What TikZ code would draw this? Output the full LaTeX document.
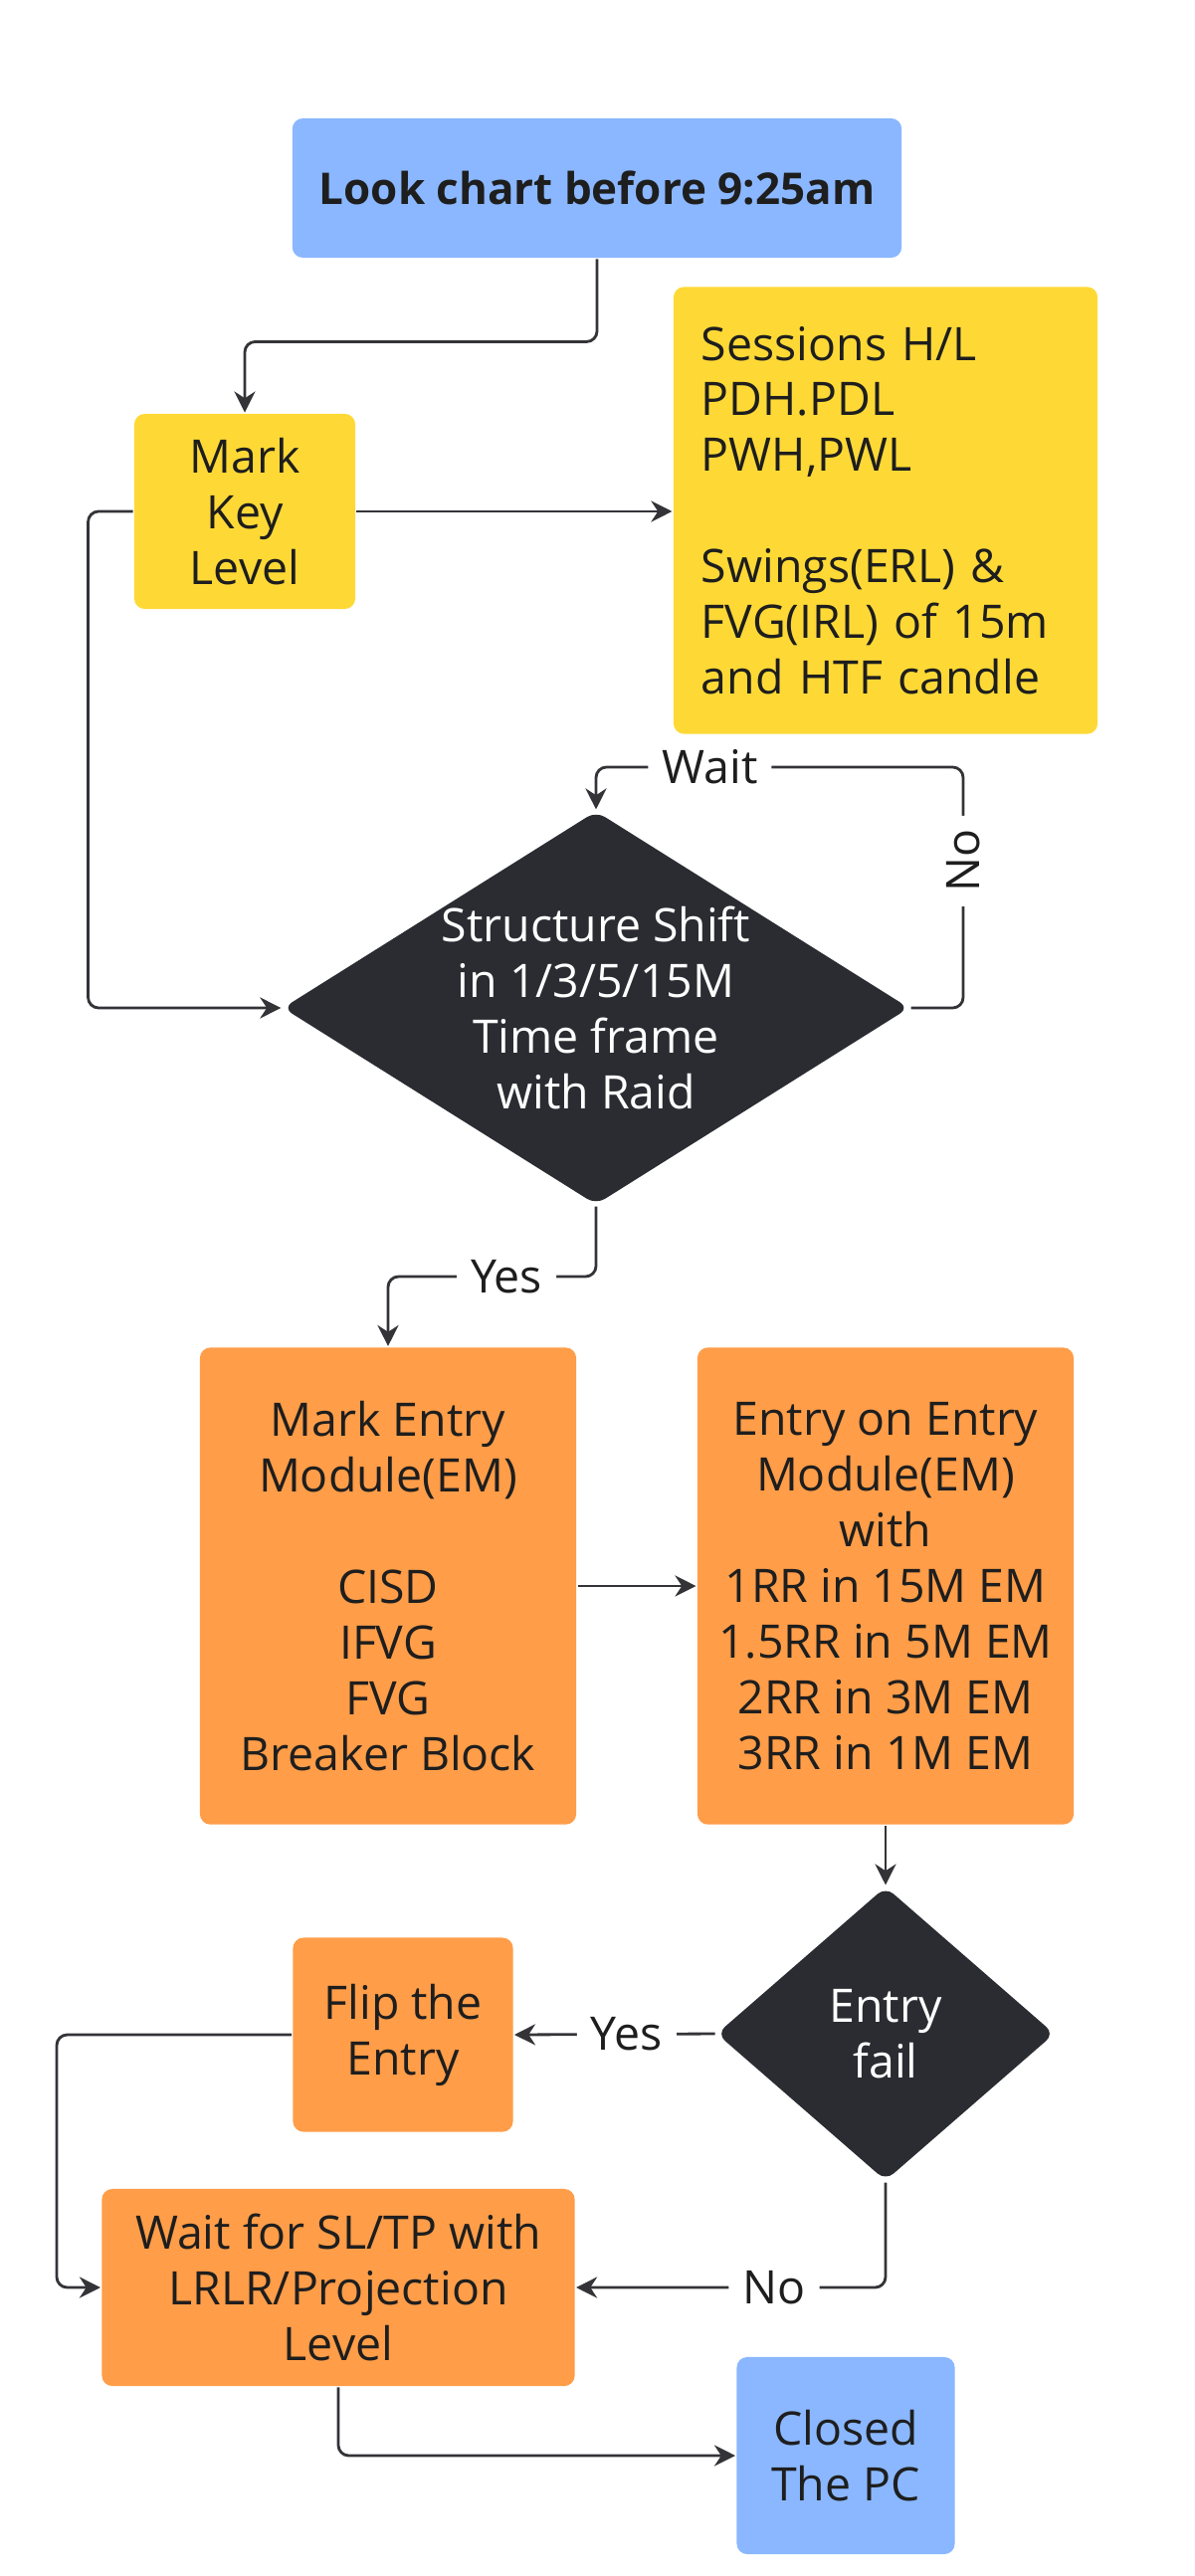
\documentclass[tikz,border=0pt]{standalone}
\usepackage{fontspec}
\setmainfont{Open Sans}
\usepackage{xcolor}
\usetikzlibrary{arrows.meta,shapes.geometric,calc}
\definecolor{flow@blue}{RGB}{138,183,255}
\definecolor{flow@yellow}{RGB}{254,217,54}
\definecolor{flow@orange}{RGB}{255,157,72}
\definecolor{flow@dark}{RGB}{43,44,50}
\definecolor{flow@line}{RGB}{52,52,56}
\definecolor{flow@text}{RGB}{30,30,30}
\tikzset{
  flow/.style={
    x=0.01cm, y=-0.01cm,
    >={Stealth[length=6pt,width=6pt]},
    line width=0.8pt,
    every node/.style={font=\fontsize{13.2}{15.9}\selectfont, text=flow@text}
  },
  flowbox/.style={                 % plain process box
    rounded corners=3pt,
    inner sep=0pt,
    align=center
  },
  startbox/.style={flowbox, fill=flow@blue},
  keybox/.style={flowbox, fill=flow@yellow},
  stepbox/.style={flowbox, fill=flow@orange},
  decision/.style={                % dark yes/no diamond
    diamond, fill=flow@dark, text=white,
    rounded corners=3pt,
    inner sep=-4pt,
    align=center
  },
  flowarrow/.style={->, draw=flow@line, rounded corners=3pt},
  edgelabel/.style={fill=white, inner sep=4pt}
}

\begin{document}
\begin{tikzpicture}[flow]
\useasboundingbox (0,0) rectangle (1200,2589);
% Start box
\node[startbox, minimum width=6.12cm, minimum height=1.4cm,
  font=\fontsize{12.5}{15}\selectfont\bfseries] (look) at (600,189) {Look chart before 9:25am};

% Key levels
\node[keybox, minimum width=2.22cm, minimum height=1.96cm] (mark) at (246,514) {Mark\\Key\\Level};
\node[keybox, minimum width=4.26cm, minimum height=4.49cm, text width=3.7cm, align=left] (levels) at (890,513)
  {Sessions H/L\\PDH.PDL\\PWH,PWL\\[15.9pt]Swings(ERL) \&\\FVG(IRL) of 15m\\and HTF candle};

% Structure shift check
\node[decision, aspect=1.59, minimum width=6.3cm, minimum height=3.96cm] (shift) at (599,1013)
  {Structure Shift\\in 1/3/5/15M\\Time frame\\with Raid};

% Entry module boxes
\node[stepbox, minimum width=3.78cm, minimum height=4.79cm] (markem) at (390,1594)
  {Mark Entry\\Module(EM)\\[15.9pt]CISD\\IFVG\\FVG\\Breaker Block};
\node[stepbox, minimum width=3.78cm, minimum height=4.79cm] (entry) at (890,1594)
  {Entry on Entry\\Module(EM)\\with\\1RR in 15M EM\\1.5RR in 5M EM\\2RR in 3M EM\\3RR in 1M EM};

% Entry fail check and the end
\node[decision, aspect=1.15, minimum width=3.4cm, minimum height=2.96cm] (fail) at (890,2044) {Entry\\fail};
\node[stepbox, minimum width=2.21cm, minimum height=1.95cm] (flip) at (405,2045) {Flip the\\Entry};
\node[stepbox, minimum width=4.75cm, minimum height=1.98cm] (wait) at (340,2299)
  {Wait for SL/TP with\\LRLR/Projection\\Level};
\node[startbox, minimum width=2.19cm, minimum height=1.98cm] (closed) at (850,2468) {Closed\\The PC};

% Connectors
\draw[flowarrow] (look.south) -- ++(0,83) -| (mark.north);
\draw[flowarrow] (mark.east) -- (levels.west |- mark.east);
\draw[flowarrow] (mark.west) -- ++(-45,0) |- (shift.west);
\draw[flowarrow] (shift.east) -- (968,1013)
  -- node[pos=0.61, edgelabel, rotate=90] {No} (968,771)
  -- node[pos=0.69, edgelabel] {Wait} (599,771) -- (shift.north);
\draw[flowarrow] (shift.south) -- (599,1283)
  -- node[pos=0.43, edgelabel] {Yes} (390,1283) -- (markem.north);
\draw[flowarrow] (markem.east) -- (entry.west);
\draw[flowarrow] (entry.south) -- (fail.north);
\draw[flowarrow] (fail.west) -- node[pos=0.44, edgelabel] {Yes} (flip.east);
\draw[flowarrow] (flip.west) -- (57,2045) |- (wait.west);
\draw[flowarrow] (fail.south) |- node[pos=0.68, edgelabel] {No} (wait.east);
\draw[flowarrow] (wait.south) |- (closed.west);
\end{tikzpicture}
\end{document}
